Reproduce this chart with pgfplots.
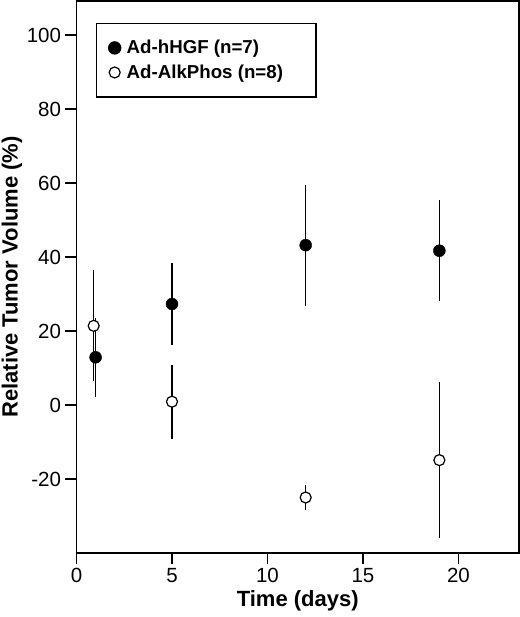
\documentclass[border=0pt]{standalone}
\usepackage{fontspec}
\setmainfont{Liberation Sans}
\usepackage{pgfplots}
\pgfplotsset{compat=1.18}
\begin{document}
\begin{tikzpicture}
\begin{axis}[
  name=ax,
  at={(0,0)}, anchor=south west,
  scale only axis,
  width=442.5pt, height=552pt,
  xmin=0, xmax=23.17,
  ymin=-40, ymax=109.2,
  xtick={0,5,10,15,20},
  ytick={-20,0,20,40,60,80,100},
  xtick pos=bottom, ytick pos=left,
  tick align=outside,
  major tick length=11pt,
  axis line style={line width=1.3pt},
  every tick/.style={line width=1.5pt, black},
  tick label style={font=\fontsize{20.5}{24}\selectfont},
  /pgf/number format/assume math mode=true,
  xticklabel style={yshift=-1pt},
  yticklabel style={xshift=-1pt},
  xlabel={\bfseries Time (days)},
  ylabel={\bfseries Relative Tumor Volume (\%)},
  label style={font=\fontsize{22}{26}\selectfont},
  xlabel style={at={(axis description cs:0.5,-0.0973)}, anchor=base},
  ylabel style={at={(axis description cs:-0.146,0.5)}, anchor=center},
  legend style={at={(0.044,0.9607)}, anchor=north west, draw=black, line width=1.4pt,
    font=\bfseries\fontsize{18.7}{22}\selectfont, inner xsep=12pt, inner ysep=13pt,
    row sep=1.5pt, nodes={inner xsep=6pt, inner ysep=4pt}},
  legend cell align=left,
]
\addplot[only marks, mark=*, mark size=6pt, mark options={fill=black, draw=black},
  error bars/.cd, y dir=both, y explicit, error mark=none,
  error bar style={line width=1.5pt, black}]
  table[x=x, y=y, y error=e] {
  x y e
  1 12.9 10.7
  5 27.3 11.2
  12 43.2 16.4
  19 41.7 13.7
  };
\addlegendentry{Ad-hHGF (n=7)}
\addplot[only marks, mark=*, mark size=5.5pt, mark options={fill=white, draw=black, line width=1.2pt},
  error bars/.cd, y dir=both, y explicit, error mark=none,
  error bar style={line width=1.5pt, black}]
  table[x=x, y=y, y error=e] {
  x y e
  0.9 21.4 15.0
  5 0.9 10.0
  12 -25.0 3.3
  19 -14.9 21.0
  };
\addlegendentry{Ad-AlkPhos (n=8)\rule{15pt}{0pt}}
\end{axis}
\pgfresetboundingbox
\path[use as bounding box] ([shift={(-76.5pt,-64pt)}]ax.south west) rectangle ([shift={(0.5pt,1pt)}]ax.north east);
\end{tikzpicture}
\end{document}
